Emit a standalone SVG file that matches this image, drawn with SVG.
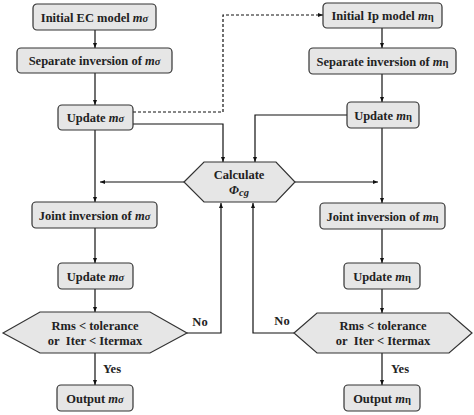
<svg xmlns="http://www.w3.org/2000/svg" width="474" height="415" viewBox="0 0 474 415">
<defs>
<marker id="ah" viewBox="0 0 10 10" refX="10" refY="5" markerWidth="5" markerHeight="5" orient="auto" markerUnits="userSpaceOnUse">
<path d="M0,1 L10,5 L0,9 Z" fill="#111"/>
</marker>
<style>
.box{fill:#e6e6e6;stroke:#333;stroke-width:1.2}
.t{font-family:"Liberation Serif","Times New Roman","DejaVu Serif",serif;font-weight:bold;font-size:12.5px;fill:#222;text-anchor:middle}
.m{font-style:italic}
.s{font-size:10.5px}
.ln{fill:none;stroke:#111;stroke-width:1.2}
.dash{stroke-dasharray:3,2}
</style>
</defs>
<rect width="474" height="415" fill="#fff"/>
<g id="connectors">
<path class="ln" d="M95,30 V48" marker-end="url(#ah)"/>
<path class="ln" d="M95,73 V105" marker-end="url(#ah)"/>
<path class="ln dash" d="M133,112 H223 V15 H323" marker-end="url(#ah)"/>
<path class="ln" d="M133,124 H223 V162" marker-end="url(#ah)"/>
<path class="ln" d="M95,130 V202" marker-end="url(#ah)"/>
<path class="ln" d="M185,182 H100" marker-end="url(#ah)"/>
<path class="ln" d="M95,228 V263" marker-end="url(#ah)"/>
<path class="ln" d="M95,289 V312" marker-end="url(#ah)"/>
<path class="ln" d="M95,353 V385" marker-end="url(#ah)"/>
<path class="ln" d="M187,333 H221 V203" marker-end="url(#ah)"/>
<path class="ln" d="M382,28 V48" marker-end="url(#ah)"/>
<path class="ln" d="M382,74 V102" marker-end="url(#ah)"/>
<path class="ln" d="M347,115 H255 V162" marker-end="url(#ah)"/>
<path class="ln" d="M382,128 V203" marker-end="url(#ah)"/>
<path class="ln" d="M295,182 H378" marker-end="url(#ah)"/>
<path class="ln" d="M382,229 V263" marker-end="url(#ah)"/>
<path class="ln" d="M382,289 V313" marker-end="url(#ah)"/>
<path class="ln" d="M382,353 V385" marker-end="url(#ah)"/>
<path class="ln" d="M294,333 H253 V203" marker-end="url(#ah)"/>
<text class="t" x="200" y="326">No</text>
<text class="t" x="282" y="325">No</text>
<text class="t" x="112" y="373">Yes</text>
<text class="t" x="400" y="373">Yes</text>
</g>
<g id="initEC"><rect class="box" x="33" y="4" width="123" height="26" rx="4"/><text class="t" x="94.5" y="21.5">Initial EC model <tspan class="m">m</tspan><tspan class="m s">σ</tspan></text></g>
<g id="sepEC"><rect class="box" x="17" y="48" width="155" height="25" rx="4"/><text class="t" x="94.5" y="65">Separate inversion of <tspan class="m">m</tspan><tspan class="m s">σ</tspan></text></g>
<g id="upd1EC"><rect class="box" x="58" y="105" width="75" height="25" rx="4"/><text class="t" x="95.5" y="122">Update <tspan class="m">m</tspan><tspan class="m s">σ</tspan></text></g>
<g id="jointEC"><rect class="box" x="32" y="202" width="125" height="26" rx="4"/><text class="t" x="94.5" y="219.5">Joint inversion of <tspan class="m">m</tspan><tspan class="m s">σ</tspan></text></g>
<g id="upd2EC"><rect class="box" x="58" y="263" width="75" height="26" rx="4"/><text class="t" x="95.5" y="280.5">Update <tspan class="m">m</tspan><tspan class="m s">σ</tspan></text></g>
<g id="decEC"><polygon class="box" points="3,333 40,312 150,312 187,333 150,353 40,353"/><text class="t" x="95" y="330">Rms &lt; tolerance</text><text class="t" x="95" y="345">or&#160; Iter &lt; Itermax</text></g>
<g id="outEC"><rect class="box" x="57" y="385" width="76" height="26" rx="4"/><text class="t" x="95" y="402.5">Output <tspan class="m">m</tspan><tspan class="m s">σ</tspan></text></g>
<g id="initIP"><rect class="box" x="323" y="3" width="119" height="25" rx="4"/><text class="t" x="382.5" y="20">Initial Ip model <tspan class="m">m</tspan><tspan class="s">η</tspan></text></g>
<g id="sepIP"><rect class="box" x="309" y="48" width="147" height="26" rx="4"/><text class="t" x="382.5" y="65.5">Separate inversion of <tspan class="m">m</tspan><tspan class="s">η</tspan></text></g>
<g id="upd1IP"><rect class="box" x="347" y="102" width="72" height="26" rx="4"/><text class="t" x="383" y="119.5">Update <tspan class="m">m</tspan><tspan class="s">η</tspan></text></g>
<g id="calc"><polygon class="box" points="184,182 204,162 276,162 295,182 276,202 204,202"/><text class="t" x="239" y="179">Calculate</text><text class="t m" x="239" y="194">Φ<tspan class="s" dy="2">cg</tspan></text></g>
<g id="jointIP"><rect class="box" x="320" y="203" width="125" height="26" rx="4"/><text class="t" x="382.5" y="220.5">Joint inversion of <tspan class="m">m</tspan><tspan class="s">η</tspan></text></g>
<g id="upd2IP"><rect class="box" x="344" y="263" width="76" height="26" rx="4"/><text class="t" x="382" y="280.5">Update <tspan class="m">m</tspan><tspan class="s">η</tspan></text></g>
<g id="decIP"><polygon class="box" points="294,333 317,313 449,313 472,333 449,353 317,353"/><text class="t" x="383" y="330">Rms &lt; tolerance</text><text class="t" x="383" y="345">or&#160; Iter &lt; Itermax</text></g>
<g id="outIP"><rect class="box" x="344" y="385" width="76" height="26" rx="4"/><text class="t" x="382" y="402.5">Output <tspan class="m">m</tspan><tspan class="s">η</tspan></text></g>
</svg>
